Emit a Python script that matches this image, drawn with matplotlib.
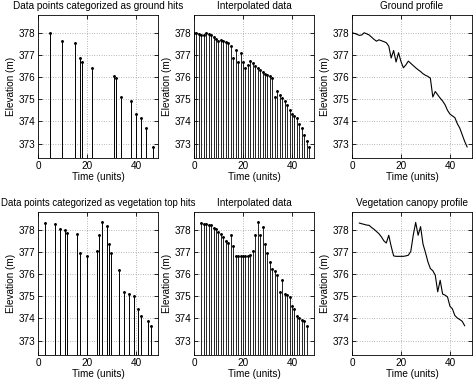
import matplotlib
matplotlib.use("Agg")
import matplotlib.pyplot as plt

plt.rcParams['font.family'] = ['Liberation Sans', 'DejaVu Sans']

# ---- data ----
ground_hit_t = [5, 10, 15, 17, 18, 22, 31, 32, 34, 38, 40, 42, 44, 47]
ground_hit_z = [378.0, 377.62, 377.55, 376.86, 376.68, 376.4, 376.03, 375.95,
                375.1, 374.92, 374.33, 374.17, 373.7, 372.85]

ground_interp_t = list(range(0, 48))
ground_interp_z = [378.0, 377.97, 377.93, 377.88, 377.9, 378.0, 377.95, 377.9,
                   377.8, 377.7, 377.62, 377.68, 377.64, 377.6, 377.55, 377.4,
                   376.86, 377.2, 376.68, 377.1, 376.7, 376.42, 376.55, 376.72,
                   376.62, 376.52, 376.42, 376.33, 376.25, 376.15, 376.08, 376.03,
                   375.95, 375.1, 375.35, 375.2, 375.05, 374.92, 374.75, 374.5,
                   374.33, 374.25, 374.17, 373.9, 373.7, 373.4, 373.1, 372.85]

veg_hit_t = [3, 7, 9, 11, 12, 16, 17, 20, 24, 25, 26, 28, 29, 30, 33, 35, 37,
             39, 41, 42, 45, 46]
veg_hit_z = [378.31, 378.24, 378.04, 377.97, 377.87, 377.79, 376.93, 376.82,
             377.03, 377.75, 378.34, 378.16, 377.37, 376.97, 376.18, 375.2,
             375.1, 375.01, 374.43, 374.13, 373.87, 373.67]

veg_interp_t = list(range(3, 47))
veg_interp_z = [378.30, 378.27, 378.24, 378.21, 378.20, 378.10, 378.02, 377.92,
                377.82, 377.68, 377.5, 377.4, 377.75, 377.25, 376.82, 376.80,
                376.80, 376.80, 376.80, 376.82, 376.85, 377.02, 377.75, 378.33,
                377.75, 378.14, 377.35, 376.97, 376.55, 376.25, 376.15, 375.95,
                375.2, 375.72, 375.1, 375.05, 374.97, 374.55, 374.43, 374.13,
                374.02, 373.95, 373.87, 373.67]

titles_top = ["Data points categorized as ground hits", "Interpolated data", "Ground profile"]
titles_bot = ["Data points categorized as vegetation top hits", "Interpolated data",
              "Vegetation canopy profile"]
xticks = [0, 20, 40]
yticks = [373, 374, 375, 376, 377, 378]
xlabel = "Time (units)"
ylabel = "Elevation (m)"

XLIM = (0, 49)
YLIM = (372.35, 378.8)

fig = plt.figure(figsize=(4.74, 3.86), dpi=100)

lefts = [38 / 474, 194 / 474, 352 / 474]
w = 120 / 474
h = 143 / 386
bottoms = [1 - 158 / 386, 1 - 355 / 386]

FS = 7.2


def style(ax, title, tfs=FS):
    ax.set_xlim(*XLIM)
    ax.set_ylim(*YLIM)
    ax.set_xticks(xticks)
    ax.set_yticks(yticks)
    ax.grid(True, color='#777777', linestyle=(0, (1, 2.5)), linewidth=0.5)
    ax.set_axisbelow(True)
    ax.tick_params(direction='in', length=3, width=0.6, labelsize=FS,
                   top=True, right=True, pad=2)
    for s in ax.spines.values():
        s.set_linewidth(0.6)
    ax.set_title(title, fontsize=tfs, pad=4)
    ax.set_xlabel(xlabel, fontsize=FS, labelpad=1)
    ax.set_ylabel(ylabel, fontsize=FS, labelpad=2)


def stems(ax, t, z, lw):
    ax.vlines(t, YLIM[0] - 1, z, colors='black', linewidth=lw)
    ax.plot(t, z, linestyle='none', marker='o', markersize=1.1, color='black')


rows = [
    (ground_hit_t, ground_hit_z, ground_interp_t, ground_interp_z, titles_top),
    (veg_hit_t, veg_hit_z, veg_interp_t, veg_interp_z, titles_bot),
]

for r, (ht, hz, it, iz, ttl) in enumerate(rows):
    b = bottoms[r]
    ax1 = fig.add_axes([lefts[0], b, w, h])
    style(ax1, ttl[0], tfs=(FS if r == 0 else 6.9))
    stems(ax1, ht, hz, 0.7)

    ax2 = fig.add_axes([lefts[1], b, w, h])
    style(ax2, ttl[1])
    stems(ax2, it, iz, 0.6)

    ax3 = fig.add_axes([lefts[2], b, w, h])
    style(ax3, ttl[2])
    ax3.plot(it, iz, color='black', linewidth=0.8)

fig.savefig("out.png", dpi=100)
